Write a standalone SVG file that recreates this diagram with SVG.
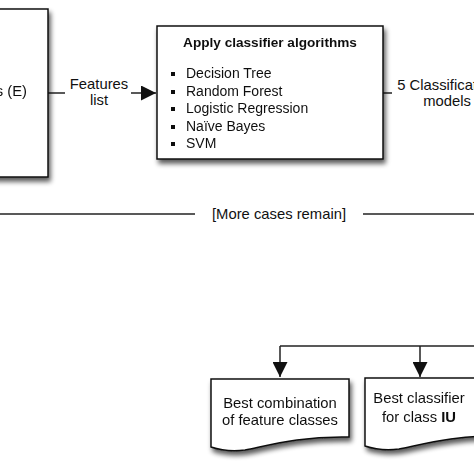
<svg xmlns="http://www.w3.org/2000/svg" width="474" height="474" viewBox="0 0 474 474">
<style>
text{font-family:"Liberation Sans",Arial,sans-serif;fill:#111;font-size:14px}
.lb{font-size:14.8px}
.box{fill:#fff;stroke:#111;stroke-width:1.5}
.ln{fill:none;stroke:#222;stroke-width:1.5}
.t{font-weight:bold}
.c{text-anchor:middle}
</style>
<defs>
<filter id="sh" x="-20%" y="-20%" width="140%" height="150%">
<feGaussianBlur in="SourceAlpha" stdDeviation="2.5"/>
<feOffset dx="2" dy="4" result="b"/>
<feComponentTransfer><feFuncA type="linear" slope="0.65"/></feComponentTransfer>
<feMerge><feMergeNode/><feMergeNode in="SourceGraphic"/></feMerge>
</filter>
<marker id="ah" viewBox="0 0 10 10" refX="10" refY="5" markerWidth="15" markerHeight="15" markerUnits="userSpaceOnUse" orient="auto">
<path d="M0,0 L10,5 L0,10 z" fill="#111"/>
</marker>
</defs>

<g id="connectors">
<path class="ln" d="M48,93 H65"/>
<path class="ln" d="M131,93 H156" marker-end="url(#ah)"/>
<text x="99" y="89" class="c lb">Features</text>
<text x="99" y="105" class="c lb">list</text>
<path class="ln" d="M383,93 H392"/>
<text x="447" y="90" class="c lb">5 Classification</text>
<text x="447" y="106" class="c lb">models</text>
<path class="ln" d="M0,214 H195"/>
<path class="ln" d="M363,214 H474"/>
<text x="279" y="219" class="c lb">[More cases remain]</text>
<path class="ln" d="M280,346 H474"/>
<path class="ln" d="M280,346 V377" marker-end="url(#ah)"/>
<path class="ln" d="M420,346 V377" marker-end="url(#ah)"/>
</g>

<g id="node-extract" filter="url(#sh)">
<rect class="box" x="-10" y="9" width="58" height="168"/>
<text x="27" y="96" class="lb" style="text-anchor:end">s (E)</text>
</g>

<g id="node-apply" filter="url(#sh)">
<rect class="box" x="157" y="26" width="226" height="133"/>
<text x="270" y="47" class="c t" style="font-size:13.6px">Apply classifier algorithms</text>
<g fill="#111">
<rect x="171" y="72" width="4" height="4"/>
<rect x="171" y="90" width="4" height="4"/>
<rect x="171" y="107" width="4" height="4"/>
<rect x="171" y="125" width="4" height="4"/>
<rect x="171" y="142" width="4" height="4"/>
</g>
<text x="186" y="78">Decision Tree</text>
<text x="186" y="96">Random Forest</text>
<text x="186" y="113">Logistic Regression</text>
<text x="186" y="131">Naïve Bayes</text>
<text x="186" y="148">SVM</text>
</g>

<g id="node-best-combination" filter="url(#sh)">
<path class="box" d="M211,379 H349 V437 C300,436 270,445 245,450 C230,452 220,450 211,447 Z"/>
<text x="280" y="408" class="c lb">Best combination</text>
<text x="280" y="425" class="c lb">of feature classes</text>
</g>

<g id="node-best-classifier" filter="url(#sh)">
<path class="box" d="M365,378 H503 V436 C454,435 424,444 399,449 C384,451 374,449 365,446 Z"/>
<text x="419" y="403" class="c lb">Best classifier</text>
<text x="419" y="422" class="c lb">for class <tspan class="t">IU</tspan></text>
</g>
</svg>
